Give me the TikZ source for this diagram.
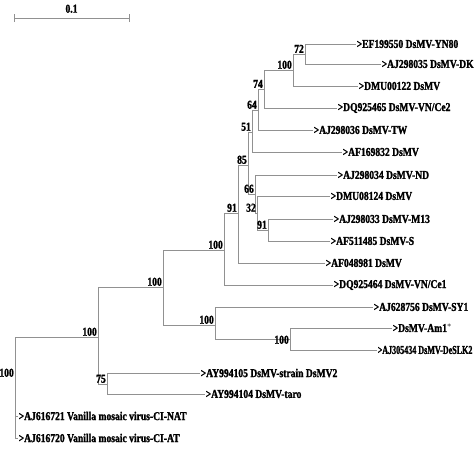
\documentclass[tikz,border=0pt]{standalone}
\usepackage{fontspec}
\usepackage{graphicx}
\setmainfont{Liberation Serif}[FakeStretch=0.8, BoldFeatures={FakeBold=1.5}]
\usetikzlibrary{calc}
\definecolor{branchgray}{RGB}{145,145,145}
\tikzset{
  branch/.style={draw=branchgray, line width=1pt},
  leaf/.style={anchor=west, inner sep=0.5pt, font=\fontsize{12}{14}\selectfont\bfseries},
  boot/.style={anchor=south east, inner sep=1pt, font=\fontsize{12}{14}\selectfont\bfseries}
}
\begin{document}
\begin{tikzpicture}[x=1pt,y=-1pt]
    \useasboundingbox (0,0) rectangle (474,448);

    % Scale bar
    \coordinate (sbl) at (14,18);
    \coordinate (sbr) at (129,18);
    \draw[branch] (sbl) -- (sbr);
    \draw[branch] ([yshift=-4pt]sbl) -- ([yshift=4pt]sbl);
    \draw[branch] ([yshift=-4pt]sbr) -- ([yshift=4pt]sbr);
    \node[boot, anchor=south] (sblab) at ($(sbl)!0.5!(sbr)+(0,-4)$) {0.1};

    % Leaves
    \node[leaf] (yn80)   at (356,44)  {>EF199550 DsMV-YN80};
    \node[leaf] (dk)     at (381,64)  {>AJ298035 DsMV-DK};
    \node[leaf] (dmu122) at (358,86)  {>DMU00122 DsMV};
    \node[leaf] (ce2)    at (337,108) {>DQ925465 DsMV-VN/Ce2};
    \node[leaf] (tw)     at (313,130) {>AJ298036 DsMV-TW};
    \node[leaf] (af169)  at (342,152) {>AF169832 DsMV};
    \node[leaf] (nd)     at (337,175) {>AJ298034 DsMV-ND};
    \node[leaf] (dmu124) at (330,196) {>DMU08124 DsMV};
    \node[leaf] (m13)    at (333,219) {>AJ298033 DsMV-M13};
    \node[leaf] (ds)     at (330,241) {>AF511485 DsMV-S};
    \node[leaf] (af048)  at (325,263) {>AF048981 DsMV};
    \node[leaf] (ce1)    at (333,285) {>DQ925464 DsMV-VN/Ce1};
    \node[leaf] (sy1)    at (373,307) {>AJ628756 DsMV-SY1};
    \node[leaf] (am1)    at (392,328) {>DsMV-Am1$^{*}$};
    \node[leaf] (slk2)   at (377,350) {\scalebox{0.84}[1]{>AJ305434 DsMV-DeSLK2}};
    \node[leaf] (dsmv2)  at (200,373) {>AY994105 DsMV-strain DsMV2};
    \node[leaf] (taro)   at (205,394) {>AY994104 DsMV-taro};
    \node[leaf] (nat)    at (18,416)  {>AJ616721 Vanilla mosaic virus-CI-NAT};
    \node[leaf] (at)     at (18,438)  {>AJ616720 Vanilla mosaic virus-CI-AT};

    % Internal nodes
    \coordinate (n72)   at (305,54);
    \coordinate (n100a) at (293,70);
    \coordinate (n74)   at (264,89);
    \coordinate (n64)   at (258,110);
    \coordinate (n51)   at (252,132);
    \coordinate (n85)   at (248,165);
    \coordinate (n66)   at (255,194);
    \coordinate (n32)   at (257,213);
    \coordinate (n91b)  at (268,230);
    \coordinate (n91a)  at (238,213);
    \coordinate (n100b) at (224,250);
    \coordinate (n100c) at (163,287);
    \coordinate (n100d) at (215,325);
    \coordinate (n100e) at (290,339);
    \coordinate (n100f) at (98,337);
    \coordinate (n75)   at (107,384);
    \coordinate (root)  at (15,378);

    % Branches
    \draw[branch] (n72) |- (yn80.west);
    \draw[branch] (n72) |- (dk.west);
    \draw[branch] (n100a) |- (n72);
    \draw[branch] (n100a) |- (dmu122.west);
    \draw[branch] (n74) |- (n100a);
    \draw[branch] (n74) |- (ce2.west);
    \draw[branch] (n64) |- (n74);
    \draw[branch] (n64) |- (tw.west);
    \draw[branch] (n51) |- (n64);
    \draw[branch] (n51) |- (af169.west);
    \draw[branch] (n85) |- (n51);
    \draw[branch] (n85) |- (n66);
    \draw[branch] (n66) |- (nd.west);
    \draw[branch] (n66) |- (n32);
    \draw[branch] (n32) |- (dmu124.west);
    \draw[branch] (n32) |- (n91b);
    \draw[branch] (n91b) |- (m13.west);
    \draw[branch] (n91b) |- (ds.west);
    \draw[branch] (n91a) |- (n85);
    \draw[branch] (n91a) |- (af048.west);
    \draw[branch] (n100b) |- (n91a);
    \draw[branch] (n100b) |- (ce1.west);
    \draw[branch] (n100c) |- (n100b);
    \draw[branch] (n100c) |- (n100d);
    \draw[branch] (n100d) |- (sy1.west);
    \draw[branch] (n100d) |- (n100e);
    \draw[branch] (n100e) |- (am1.west);
    \draw[branch] (n100e) |- (slk2.west);
    \draw[branch] (n100f) |- (n100c);
    \draw[branch] (n100f) |- (n75);
    \draw[branch] (n75) |- (dsmv2.west);
    \draw[branch] (n75) |- (taro.west);
    \draw[branch] (root) |- (n100f);
    \draw[branch] (root) |- (nat.west);
    \draw[branch] (root) |- (at.west);

    % Bootstrap values
    \node[boot] (b72)   at (n72)   {72};
    \node[boot] (b100a) at (n100a) {100};
    \node[boot] (b74)   at (n74)   {74};
    \node[boot] (b64)   at (n64)   {64};
    \node[boot] (b51)   at (n51)   {51};
    \node[boot] (b85)   at (n85)   {85};
    \node[boot] (b66)   at (n66)   {66};
    \node[boot] (b32)   at (n32)   {32};
    \node[boot] (b91b)  at (n91b)  {91};
    \node[boot] (b91a)  at (n91a)  {91};
    \node[boot] (b100b) at (n100b) {100};
    \node[boot] (b100c) at (n100c) {100};
    \node[boot] (b100d) at (n100d) {100};
    \node[boot] (b100e) at ([yshift=-6pt]n100e) {100};
    \node[boot] (b100f) at (n100f) {100};
    \node[boot] (b75)   at (n75)   {75};
    \node[boot] (broot) at (root)  {100};
\end{tikzpicture}
\end{document}
